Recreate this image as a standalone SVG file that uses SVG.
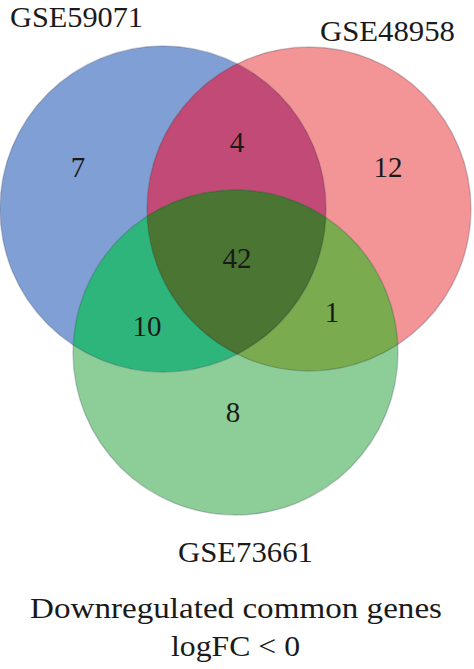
<svg xmlns="http://www.w3.org/2000/svg" width="474" height="669" viewBox="0 0 474 669">
<style>
text{font-family:"Liberation Serif","Times New Roman",serif;fill:#1a1a1a}
.lab{font-size:29px}
.num{font-size:29px;text-anchor:middle}
.edge{fill:none;stroke:#1e2a40;stroke-opacity:0.22;stroke-width:1.4}
</style>
<defs>
<clipPath id="cBlue"><circle cx="163" cy="209" r="163"/></clipPath>
<clipPath id="cRed"><circle cx="309" cy="209" r="162"/></clipPath>
<clipPath id="cRedInBlue" clip-path="url(#cBlue)"><circle cx="309" cy="209" r="162"/></clipPath>
</defs>
<rect width="474" height="669" fill="#ffffff"/>
<g id="set-GSE59071">
<circle cx="163" cy="209" r="163" fill="#80a0d5"/>
</g>
<g id="set-GSE48958">
<circle cx="309" cy="209" r="162" fill="#f39496"/>
</g>
<g id="set-GSE73661">
<circle cx="235.5" cy="352.5" r="162.5" fill="#8dce98"/>
</g>
<g id="overlaps">
<circle cx="309" cy="209" r="162" fill="#c14b76" clip-path="url(#cBlue)"/>
<circle cx="235.5" cy="352.5" r="162.5" fill="#2eb57c" clip-path="url(#cBlue)"/>
<circle cx="235.5" cy="352.5" r="162.5" fill="#7aab4e" clip-path="url(#cRed)"/>
<circle cx="235.5" cy="352.5" r="162.5" fill="#4a7532" clip-path="url(#cRedInBlue)"/>
</g>
<g id="outlines">
<circle class="edge" cx="163" cy="209" r="163"/>
<circle class="edge" cx="309" cy="209" r="162"/>
<circle class="edge" cx="235.5" cy="352.5" r="162.5"/>
</g>
<g id="labels">
<text class="lab" x="10" y="27" textLength="133" lengthAdjust="spacingAndGlyphs">GSE59071</text>
<text class="lab" x="320" y="41" textLength="135" lengthAdjust="spacingAndGlyphs">GSE48958</text>
<text class="lab" x="178" y="562" textLength="135" lengthAdjust="spacingAndGlyphs">GSE73661</text>
<text class="lab" x="30" y="618" textLength="412" lengthAdjust="spacingAndGlyphs">Downregulated common genes</text>
<text class="lab" x="171" y="656" textLength="129" lengthAdjust="spacingAndGlyphs">logFC &lt; 0</text>
</g>
<g id="counts">
<text class="num" x="78" y="177">7</text>
<text class="num" x="237" y="152">4</text>
<text class="num" x="388" y="177">12</text>
<text class="num" x="237" y="268">42</text>
<text class="num" x="147" y="336">10</text>
<text class="num" x="332" y="322">1</text>
<text class="num" x="233" y="422">8</text>
</g>
</svg>
